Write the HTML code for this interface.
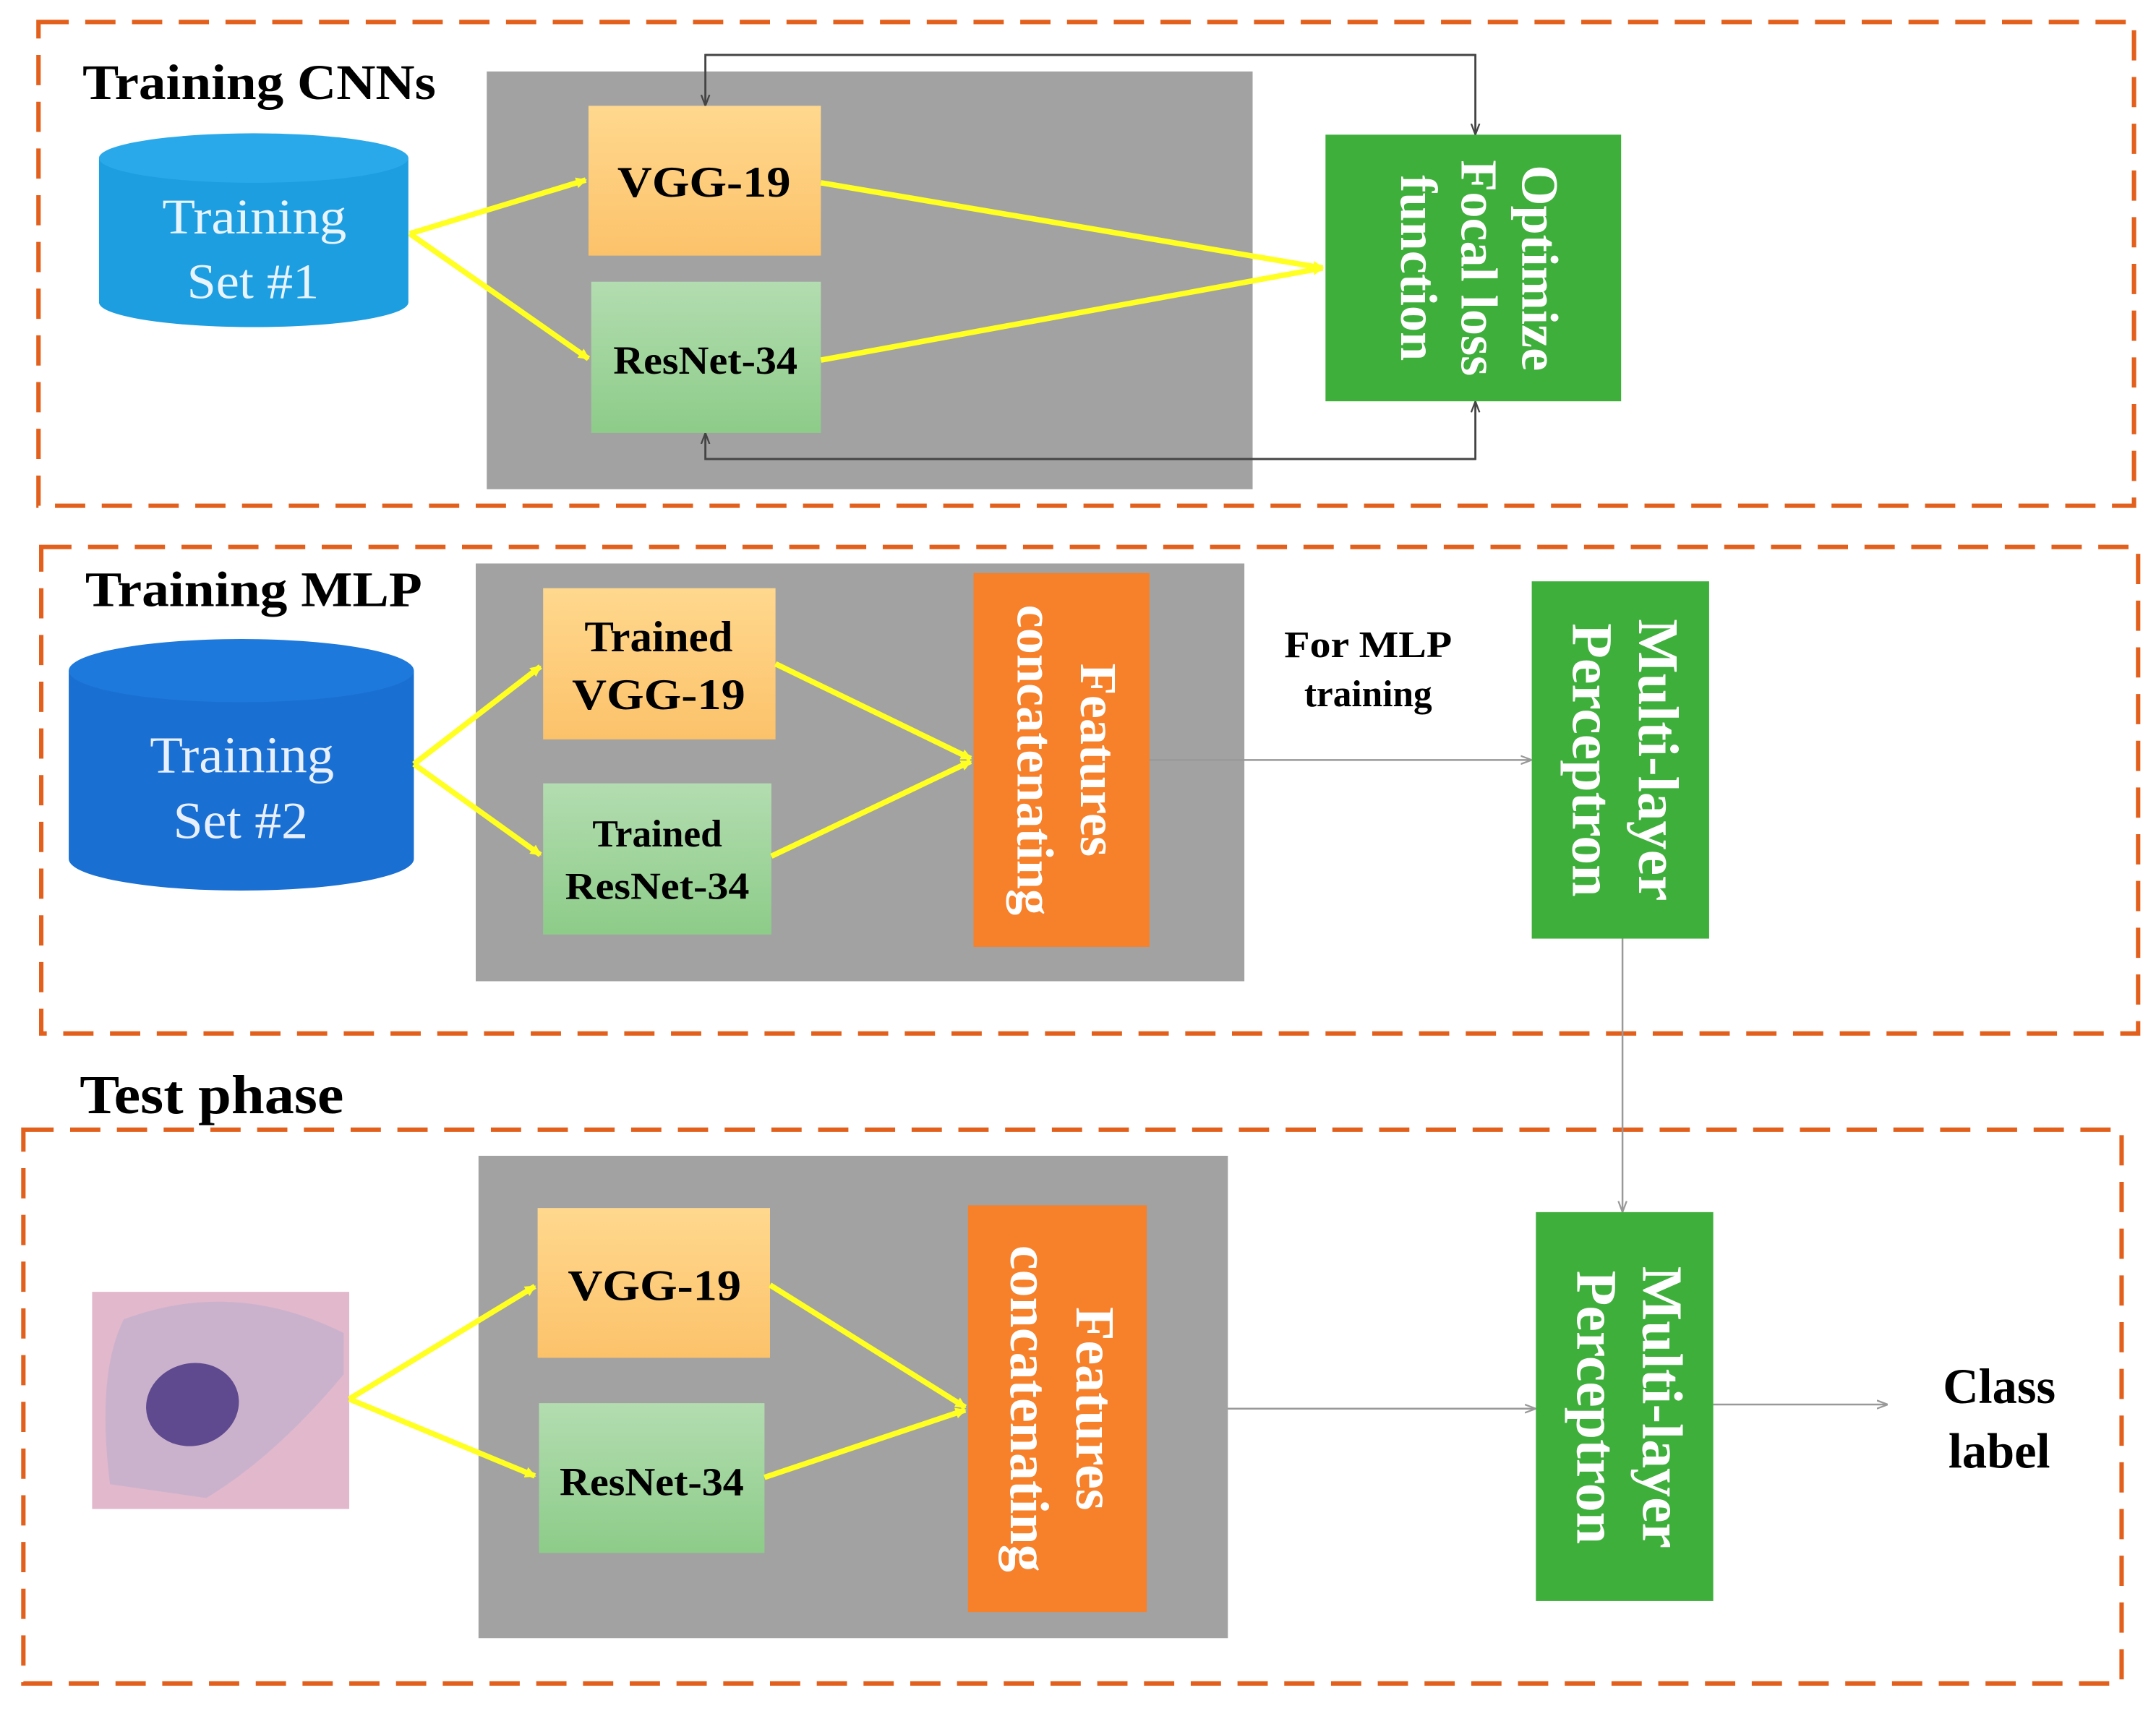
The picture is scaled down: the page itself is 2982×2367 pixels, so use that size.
<!DOCTYPE html>
<html><head><meta charset="utf-8"><style>
html,body{margin:0;padding:0;background:#fff;}
svg{display:block;}
text{font-family:"Liberation Serif",serif;font-weight:bold;}
text.n{font-weight:normal;}
</style></head><body>
<svg width="2982" height="2367" viewBox="0 0 1568 1245" preserveAspectRatio="none" xmlns="http://www.w3.org/2000/svg">
<defs>
<marker id="ya" markerWidth="8" markerHeight="8" refX="7" refY="4" orient="auto" markerUnits="userSpaceOnUse" viewBox="0 0 8 8"><path d="M0,0 L8,4 L0,8 Z" fill="#ffff22"/></marker>
<marker id="ga" markerWidth="8" markerHeight="8" refX="7" refY="4" orient="auto" markerUnits="userSpaceOnUse" viewBox="0 0 8 8"><path d="M0,1 L8,4 L0,7" fill="none" stroke="#444" stroke-width="1.2"/></marker>
<marker id="la" markerWidth="8" markerHeight="8" refX="7" refY="4" orient="auto" markerUnits="userSpaceOnUse" viewBox="0 0 8 8"><path d="M0,1 L8,4 L0,7" fill="none" stroke="#999" stroke-width="1.2"/></marker>
<linearGradient id="og" x1="0" y1="0" x2="0" y2="1"><stop offset="0" stop-color="#ffd88e"/><stop offset="1" stop-color="#fcc26a"/></linearGradient>
<linearGradient id="gg" x1="0" y1="0" x2="0" y2="1"><stop offset="0" stop-color="#b3ddb0"/><stop offset="1" stop-color="#8dcc89"/></linearGradient>
</defs>
<g fill="none" stroke="#e2601c" stroke-width="3.2" stroke-dasharray="22 12">
<rect x="28" y="16" width="1524" height="352"/>
<rect x="30" y="398" width="1525" height="354"/>
<rect x="17" y="822" width="1526" height="403"/>
</g>
<text x="60" y="72" font-size="36" textLength="257" lengthAdjust="spacingAndGlyphs">Training CNNs</text>
<text x="62" y="441" font-size="36" textLength="245" lengthAdjust="spacingAndGlyphs">Training MLP</text>
<text x="58" y="810" font-size="40" textLength="192" lengthAdjust="spacingAndGlyphs">Test phase</text>
<!-- Panel 1 -->
<rect x="354" y="52" width="557" height="304" fill="#a2a2a2"/>
<path d="M72,115 L72,220 A112.5,18 0 0 0 297,220 L297,115 Z" fill="#1d9ee0"/>
<ellipse cx="184.5" cy="115" rx="112.5" ry="18" fill="#2aa9ea"/>
<text class="n" x="185" y="170" font-size="36" fill="#e8f4ff" text-anchor="middle" textLength="134" lengthAdjust="spacingAndGlyphs">Training</text>
<text class="n" x="184" y="217" font-size="36" fill="#e8f4ff" text-anchor="middle" textLength="96" lengthAdjust="spacingAndGlyphs">Set #1</text>
<rect x="428" y="77" width="169" height="109" fill="url(#og)"/>
<text x="512" y="143" font-size="32" text-anchor="middle" textLength="126" lengthAdjust="spacingAndGlyphs">VGG-19</text>
<rect x="430" y="205" width="167" height="110" fill="url(#gg)"/>
<text x="513" y="272" font-size="29" text-anchor="middle" textLength="134" lengthAdjust="spacingAndGlyphs">ResNet-34</text>
<rect x="964" y="98" width="215" height="194" fill="#3faf3c"/>
<g transform="translate(1071,195) rotate(90)" fill="#fff" font-size="38" text-anchor="middle">
<text x="0" y="-36">Optimize</text>
<text x="0" y="8">Focal loss</text>
<text x="0" y="52">function</text>
</g>
<g stroke="#444" stroke-width="1.5" fill="none">
<polyline points="1073,40 513,40 513,76" marker-end="url(#ga)"/>
<polyline points="513,40 1073,40 1073,97" marker-end="url(#ga)"/>
<polyline points="1073,334 513,334 513,316" marker-end="url(#ga)"/>
<polyline points="513,334 1073,334 1073,293" marker-end="url(#ga)"/>
</g>
<g stroke="#ffff22" stroke-width="4" fill="none">
<line x1="298" y1="170" x2="426" y2="131" marker-end="url(#ya)"/>
<line x1="298" y1="170" x2="428" y2="261" marker-end="url(#ya)"/>
<line x1="597" y1="133" x2="962" y2="195" marker-end="url(#ya)"/>
<line x1="597" y1="262" x2="962" y2="195" marker-end="url(#ya)"/>
</g>
<!-- Panel 2 -->
<rect x="346" y="410" width="559" height="304" fill="#a2a2a2"/>
<path d="M50,488 L50,625 A125.5,23 0 0 0 301,625 L301,488 Z" fill="#1a6fd2"/>
<ellipse cx="175.5" cy="488" rx="125.5" ry="23" fill="#1d79dc"/>
<text class="n" x="176" y="562" font-size="38" fill="#e8f0ff" text-anchor="middle" textLength="134" lengthAdjust="spacingAndGlyphs">Training</text>
<text class="n" x="175" y="610" font-size="38" fill="#e8f0ff" text-anchor="middle" textLength="98" lengthAdjust="spacingAndGlyphs">Set #2</text>
<rect x="395" y="428" width="169" height="110" fill="url(#og)"/>
<text x="479" y="474" font-size="32" text-anchor="middle">Trained</text>
<text x="479" y="516" font-size="32" text-anchor="middle" textLength="126" lengthAdjust="spacingAndGlyphs">VGG-19</text>
<rect x="395" y="570" width="166" height="110" fill="url(#gg)"/>
<text x="478" y="616" font-size="28" text-anchor="middle">Trained</text>
<text x="478" y="654" font-size="28" text-anchor="middle" textLength="134" lengthAdjust="spacingAndGlyphs">ResNet-34</text>
<rect x="708" y="417" width="128" height="272" fill="#f7802a"/>
<g transform="translate(772,553) rotate(90)" fill="#fff" font-size="38" text-anchor="middle">
<text x="0" y="-14">Features</text>
<text x="0" y="32">concatenating</text>
</g>
<rect x="1114" y="423" width="129" height="260" fill="#3faf3c"/>
<g transform="translate(1178,553) rotate(90)" fill="#fff" font-size="42" text-anchor="middle">
<text x="0" y="-14">Multi-layer</text>
<text x="0" y="34">Perceptron</text>
</g>
<text x="995" y="478" font-size="27" text-anchor="middle" textLength="122" lengthAdjust="spacingAndGlyphs">For MLP</text>
<text x="995" y="514" font-size="27" text-anchor="middle">training</text>
<g stroke="#999" stroke-width="1.3" fill="none">
<line x1="836" y1="553" x2="1113" y2="553" marker-end="url(#la)"/>
<line x1="1180" y1="683" x2="1180" y2="881" marker-end="url(#la)"/>
<line x1="834" y1="1025" x2="1116" y2="1025" marker-end="url(#la)"/>
<line x1="1246" y1="1022" x2="1372" y2="1022" marker-end="url(#la)"/>
</g>
<g stroke="#ffff22" stroke-width="4" fill="none">
<line x1="301" y1="556" x2="393" y2="485" marker-end="url(#ya)"/>
<line x1="301" y1="556" x2="393" y2="622" marker-end="url(#ya)"/>
<line x1="564" y1="483" x2="706" y2="552" marker-end="url(#ya)"/>
<line x1="561" y1="623" x2="706" y2="554" marker-end="url(#ya)"/>
</g>
<!-- Panel 3 -->
<rect x="348" y="841" width="545" height="351" fill="#a2a2a2"/>
<rect x="67" y="940" width="187" height="158" fill="#e2b8cc"/>
<path d="M90,960 Q170,930 250,970 L250,1000 Q200,1060 150,1090 L80,1080 Q70,1000 90,960 Z" fill="#c6b0cc" opacity="0.8"/>
<ellipse cx="140" cy="1022" rx="34" ry="30" fill="#5f4a8f" transform="rotate(-15 140 1022)"/>
<rect x="391" y="879" width="169" height="109" fill="url(#og)"/>
<text x="476" y="946" font-size="32" text-anchor="middle" textLength="126" lengthAdjust="spacingAndGlyphs">VGG-19</text>
<rect x="392" y="1021" width="164" height="109" fill="url(#gg)"/>
<text x="474" y="1088" font-size="29" text-anchor="middle" textLength="134" lengthAdjust="spacingAndGlyphs">ResNet-34</text>
<rect x="704" y="877" width="130" height="296" fill="#f7802a"/>
<g transform="translate(769,1025) rotate(90)" fill="#fff" font-size="40" text-anchor="middle">
<text x="0" y="-14">Features</text>
<text x="0" y="34">concatenating</text>
</g>
<rect x="1117" y="882" width="129" height="283" fill="#3faf3c"/>
<g transform="translate(1181,1024) rotate(90)" fill="#fff" font-size="42" text-anchor="middle">
<text x="0" y="-14">Multi-layer</text>
<text x="0" y="34">Perceptron</text>
</g>
<text x="1454" y="1021" font-size="36" text-anchor="middle">Class</text>
<text x="1454" y="1068" font-size="36" text-anchor="middle">label</text>
<g stroke="#ffff22" stroke-width="4" fill="none">
<line x1="254" y1="1018" x2="389" y2="936" marker-end="url(#ya)"/>
<line x1="254" y1="1018" x2="389" y2="1074" marker-end="url(#ya)"/>
<line x1="560" y1="935" x2="702" y2="1024" marker-end="url(#ya)"/>
<line x1="556" y1="1075" x2="702" y2="1026" marker-end="url(#ya)"/>
</g>
</svg>
</body></html>
